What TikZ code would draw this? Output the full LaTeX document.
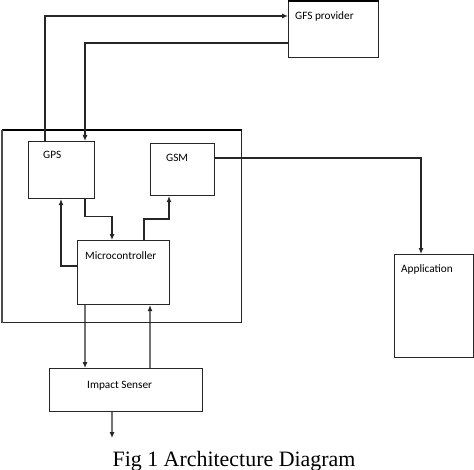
\documentclass[tikz,border=0pt]{standalone}
\usepackage{fontspec}
\setmainfont{Carlito}
\newfontfamily\capfont{Liberation Serif}
\usetikzlibrary{arrows.meta}

\tikzset{
  box/.style={draw=black!85, line width=1.1bp, rectangle, inner sep=0pt, anchor=north west},
  lbl/.style={font=\fontsize{11.3}{13}\selectfont, inner sep=0pt, anchor=base west},
  arr/.style={draw=black!85, line width=1.1bp, -{Latex[length=6bp,width=5bp]}}
}

\begin{document}
\begin{tikzpicture}[x=1bp, y=-1bp]
\useasboundingbox (0,0) rectangle (474,470);
% blocks
\node[box, minimum width=90bp, minimum height=56bp] (gfs) at (288,1) {};
\node[box, minimum width=239bp, minimum height=192bp] (board) at (2,130) {};
\node[box, minimum width=66bp, minimum height=57bp] (gps) at (28,141) {};
\node[box, minimum width=64bp, minimum height=52bp] (gsm) at (150,143) {};
\node[box, minimum width=92bp, minimum height=64bp] (mcu) at (77,240) {};
\node[box, minimum width=79bp, minimum height=103bp] (app) at (394,254) {};
\node[box, minimum width=153bp, minimum height=43bp] (imp) at (49,368) {};
\draw[line width=2.2bp] (gfs.north west) -- (gfs.north east);
\draw[line width=1.8bp] (board.north west) -- (board.north east);
\draw[line width=1.6bp, black!70] (board.north west) -- (board.south west);
% labels
\node[lbl] (gfslbl) at (295,20) {GFS provider};
\node[lbl] (gpslbl) at (43,159) {GPS};
\node[lbl] (gsmlbl) at (166,162) {GSM};
\node[lbl] (mculbl) at (85,259) {Microcontroller};
\node[lbl] (applbl) at (401,272) {Application};
\node[lbl] (implbl) at (87,388) {Impact Senser};
% connections
\draw[arr] ([xshift=17bp]gps.north west) |- ([yshift=-15bp]gfs.north west);
\draw[arr] ([yshift=-42bp]gfs.north west) -| ([xshift=57bp]gps.north west);
\draw[arr] ([yshift=-15bp]gsm.north east) -| ([xshift=27bp]app.north west);
\draw[arr] ([xshift=57bp]gps.south west) -- ++(0,17) -| ([xshift=35bp]mcu.north west);
\draw[arr] ([xshift=67bp]mcu.north west) -- ++(0,-21) -| ([xshift=19bp]gsm.south west);
\draw[arr] ([yshift=-26bp]mcu.north west) -| ([xshift=33bp]gps.south west);
\draw[arr] ([xshift=8bp]mcu.south west) -- ([xshift=36bp]imp.north west);
\draw[arr] ([xshift=101bp]imp.north west) -- ([xshift=73bp]mcu.south west);
\coordinate (out) at (112,438);
\draw[arr] ([xshift=63bp]imp.south west) -- (out);
% caption
\node[font=\fontsize{22}{26}\selectfont\capfont, inner sep=0pt, anchor=base] (cap) at (234,466) {Fig 1 Architecture Diagram};
\end{tikzpicture}
\end{document}
